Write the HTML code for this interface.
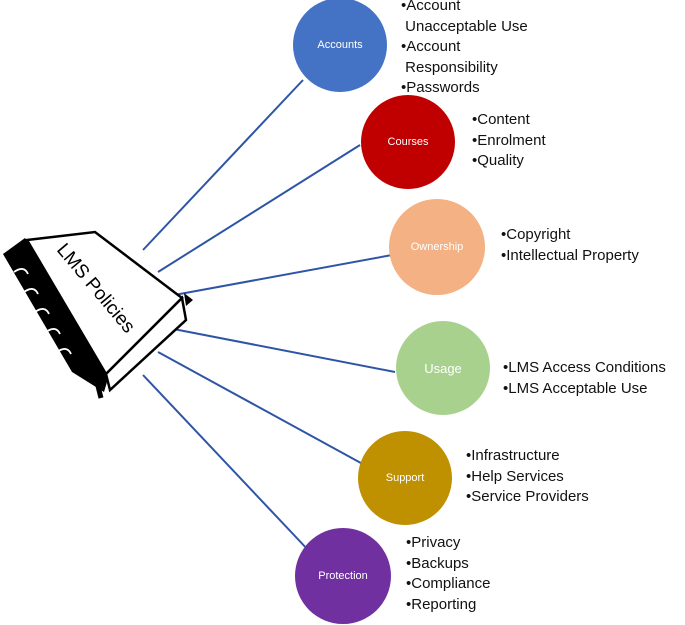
<!DOCTYPE html>
<html><head><style>
body{margin:0;width:685px;height:625px;background:#fff;overflow:hidden;position:relative;font-family:"Liberation Sans",sans-serif}
.c{position:absolute;border-radius:50%;color:#fff;font-size:11px;display:flex;align-items:center;justify-content:center}
.t{position:absolute;font-size:15px;line-height:20.5px;color:#111;white-space:nowrap}
</style></head><body>
<svg width="685" height="625" style="position:absolute;left:0;top:0">
<g stroke="#2e55a5" stroke-width="2">
<line x1="143" y1="250" x2="303" y2="80"/>
<line x1="158" y1="272" x2="360" y2="145"/>
<line x1="158" y1="298" x2="392" y2="255"/>
<line x1="158" y1="326" x2="395" y2="372"/>
<line x1="158" y1="352" x2="370" y2="468"/>
<line x1="143" y1="375" x2="310" y2="552"/>
</g>
<polygon points="3,254 25,238 110,372 104,392 72,372" fill="#000"/>
<polygon points="27,240 95,232 182,298 106,374" fill="#fff" stroke="#000" stroke-width="2.5"/>
<polygon points="106,374 182,298 186,320 110,390" fill="#fff" stroke="#000" stroke-width="2.5"/>
<polygon points="184,293 193,300 186,306" fill="#000"/>
<g stroke="#fff" stroke-width="1.8" fill="none">
<path d="M14,272 q10,-7 14,2"/><path d="M24,292 q10,-7 14,2"/><path d="M35,312 q10,-7 14,2"/><path d="M46,332 q10,-7 14,2"/><path d="M57,352 q10,-7 14,2"/>
</g>
<line x1="96" y1="378" x2="101" y2="398" stroke="#000" stroke-width="5"/>
<text x="0" y="0" font-size="19" font-family="Liberation Sans" transform="translate(56,250) rotate(50)">LMS Policies</text>
</svg>
<div class="c" style="left:293px;top:-2px;width:94px;height:94px;background:#4472c4">Accounts</div>
<div class="c" style="left:361px;top:95px;width:94px;height:94px;background:#c00000">Courses</div>
<div class="c" style="left:389px;top:199px;width:96px;height:96px;background:#f4b183">Ownership</div>
<div class="c" style="left:396px;top:321px;width:94px;height:94px;background:#a9d18e;font-size:13px">Usage</div>
<div class="c" style="left:358px;top:431px;width:94px;height:94px;background:#bf9000">Support</div>
<div class="c" style="left:295px;top:528px;width:96px;height:96px;background:#7030a0">Protection</div>
<div class="t" style="left:401px;top:-4px">•Account<br>&nbsp;Unacceptable Use<br>•Account<br>&nbsp;Responsibility<br>•Passwords</div>
<div class="t" style="left:472px;top:110px">•Content<br>•Enrolment<br>•Quality</div>
<div class="t" style="left:501px;top:225px">•Copyright<br>•Intellectual Property</div>
<div class="t" style="left:503px;top:358px">•LMS Access Conditions<br>•LMS Acceptable Use</div>
<div class="t" style="left:466px;top:446px">•Infrastructure<br>•Help Services<br>•Service Providers</div>
<div class="t" style="left:406px;top:533px">•Privacy<br>•Backups<br>•Compliance<br>•Reporting</div>
</body></html>
